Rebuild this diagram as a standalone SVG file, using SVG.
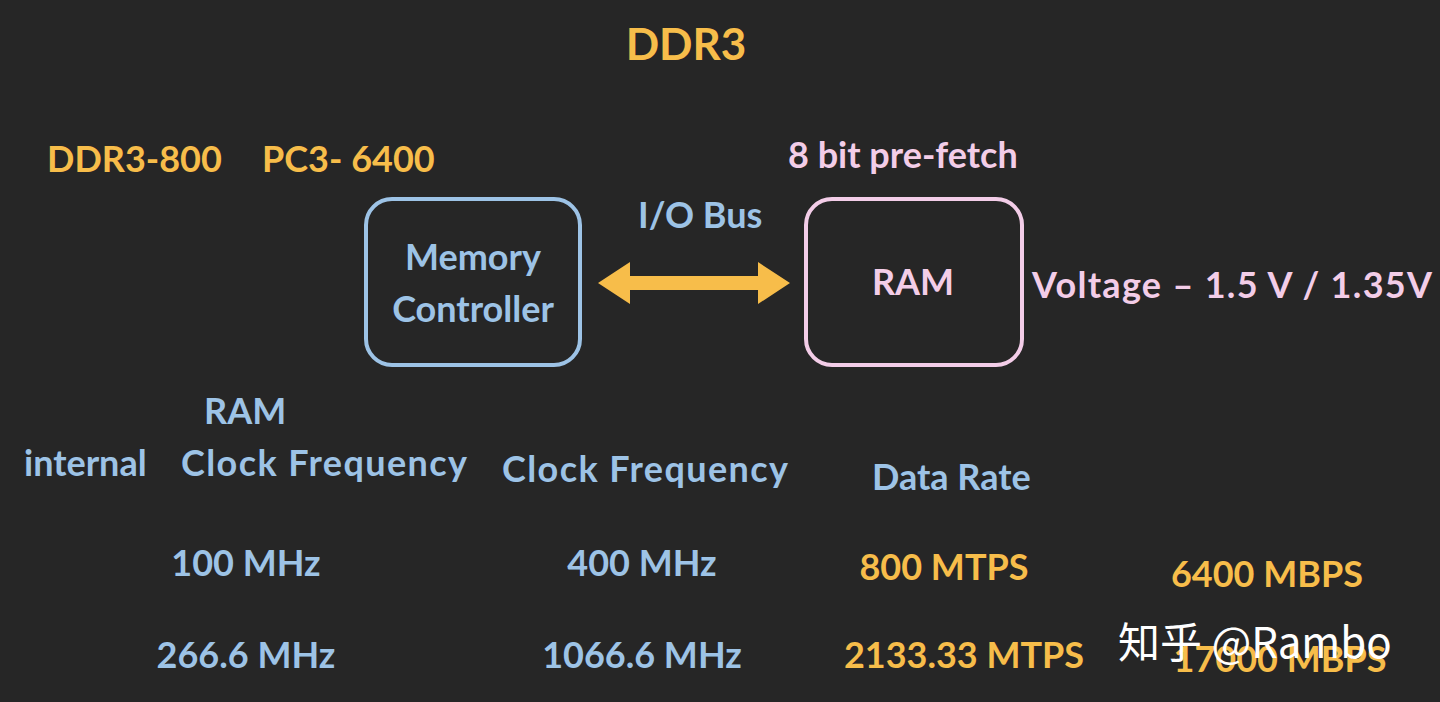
<svg xmlns="http://www.w3.org/2000/svg" width="1440" height="702" viewBox="0 0 1440 702">
<style>
text{font-family:Lato,"Open Sans","Liberation Sans",sans-serif;font-weight:bold;font-size:36px}
.o{fill:#f7bd4a}.b{fill:#9dc3e6}.p{fill:#f3cde8}.c{text-anchor:middle}
.box{fill:none;stroke-width:4}
</style>
<rect width="1440" height="702" fill="#262626"/>
<text class="o c" x="686" y="60" style="font-size:44px">DDR3</text>
<text class="o" x="47" y="172">DDR3-800</text>
<text class="o" x="262" y="172">PC3- 6400</text>
<text class="p" x="788" y="168">8 bit pre-fetch</text>
<text class="b" x="638" y="228">I/O Bus</text>
<g id="mc"><rect class="box" x="366" y="199" width="214" height="166" rx="26" stroke="#9dc3e6"/>
<text class="b c" x="473" y="270">Memory</text><text class="b c" x="473" y="322">Controller</text></g>
<g id="ram"><rect class="box" x="806" y="199" width="216" height="166" rx="26" stroke="#f3cde8"/>
<text class="p c" x="913" y="295">RAM</text></g>
<g id="connectors"><polygon fill="#f7bd4a" points="598,283 630,262 630,276 758,276 758,262 790,283 758,304 758,290 630,290 630,304"/></g>
<text class="p" x="1032" y="298" textLength="400">Voltage – 1.5 V / 1.35V</text>
<text class="b" x="204" y="424">RAM</text>
<text class="b" x="24" y="476">internal</text>
<text class="b" x="181" y="476" textLength="286">Clock Frequency</text>
<text class="b" x="502" y="482" textLength="286">Clock Frequency</text>
<text class="b" x="872" y="490">Data Rate</text>
<text class="b c" x="246" y="576">100 MHz</text>
<text class="b c" x="642" y="576">400 MHz</text>
<text class="o c" x="944" y="580">800 MTPS</text>
<text class="o c" x="1267" y="587">6400 MBPS</text>
<text class="b c" x="246" y="668">266.6 MHz</text>
<text class="b c" x="642" y="668">1066.6 MHz</text>
<text class="o c" x="964" y="668">2133.33 MTPS</text>
<text class="o c" x="1280" y="672">17000 MBPS</text>
<text x="1118" y="658" fill="#ffffff" style="font-size:42px;font-weight:normal;font-family:'Noto Sans CJK SC',Lato,sans-serif">知乎 @Rambo</text>
</svg>
